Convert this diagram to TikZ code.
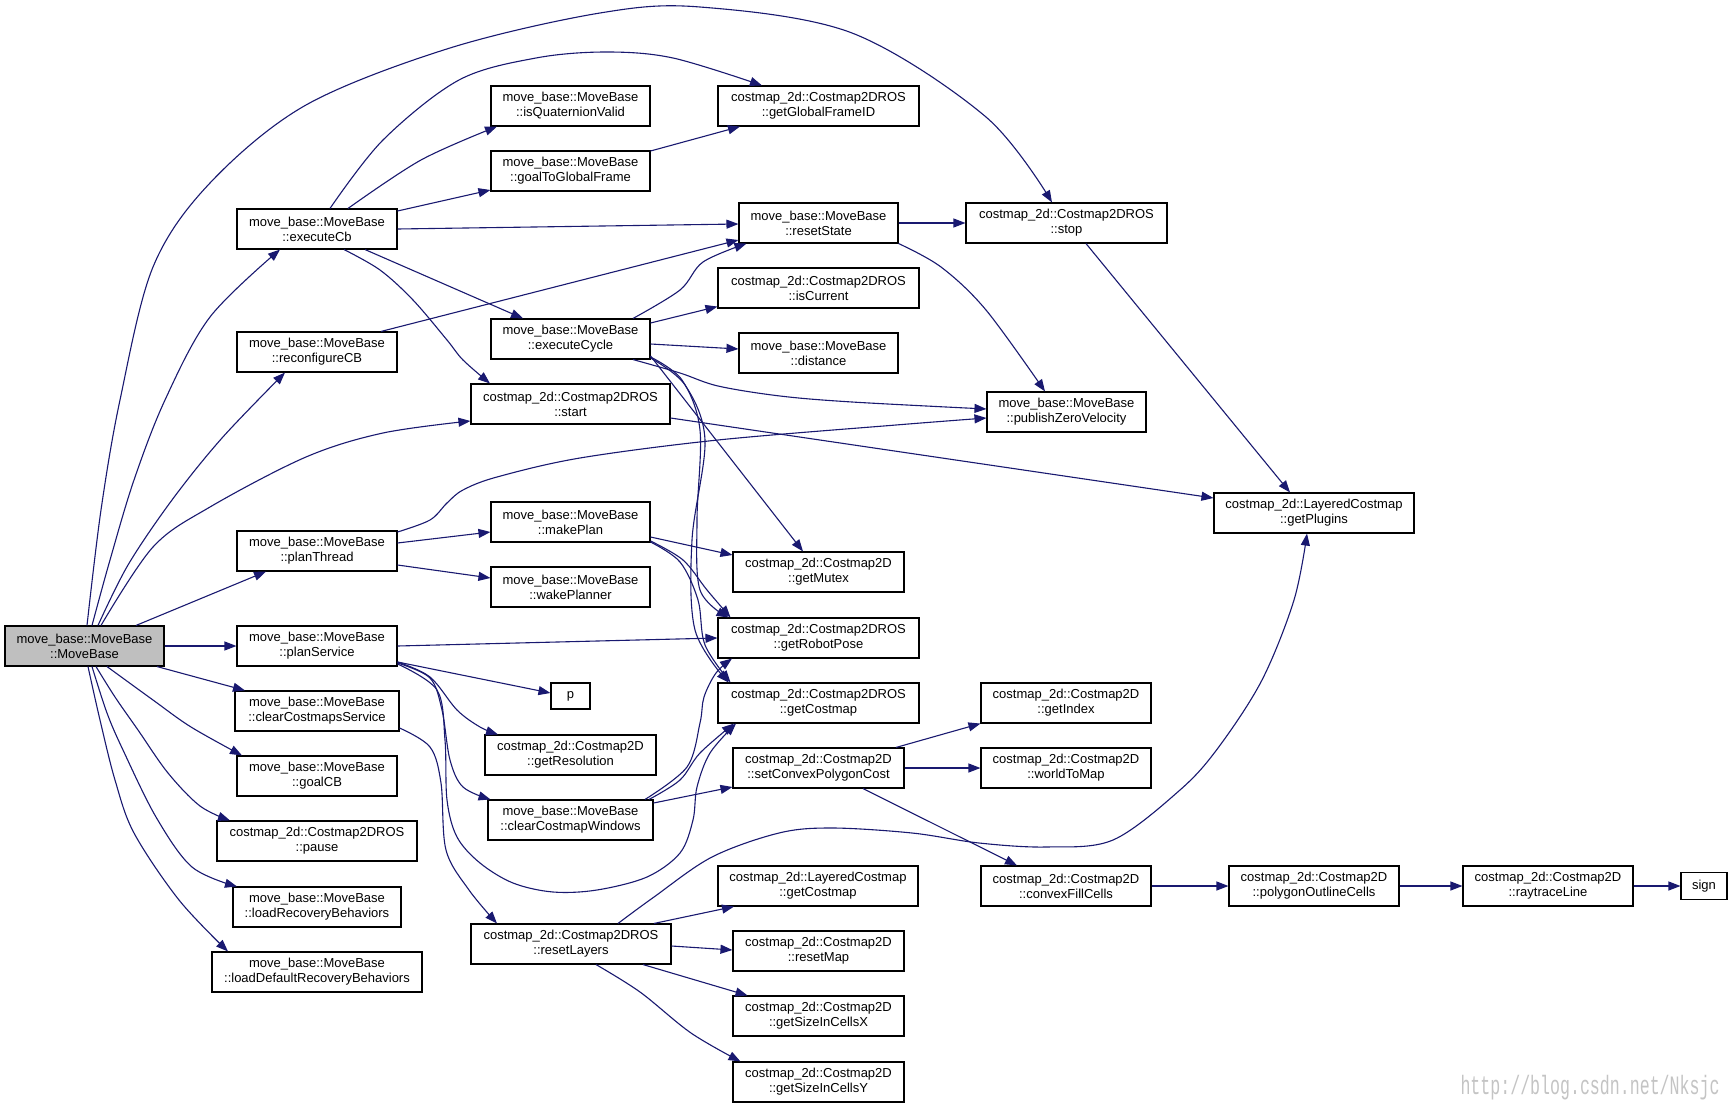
\documentclass[tikz,border=0pt]{standalone}
\usepackage{fontspec}
\setmainfont{Liberation Sans}
\newfontfamily\wmfont{Liberation Mono}
\usetikzlibrary{arrows.meta}
\definecolor{edgec}{HTML}{191970}
\definecolor{mainfill}{HTML}{BFBFBF}
\definecolor{wmgray}{HTML}{C4C4C4}
\begin{document}
\begin{tikzpicture}[x=1pt,y=-1pt,
  fn/.style={draw=black, line width=1.1pt, fill=white, inner sep=0pt, align=center,
    minimum height=40pt, font=\fontsize{13}{15}\selectfont},
  edge/.style={draw=edgec, line width=1.1pt, -{Triangle[length=12pt,width=9pt]}},
  sm/.style={smooth, tension=0.55}]
\fill[white] (0,0) rectangle (1733,1108);
\useasboundingbox (0,0) rectangle (1733,1108);
% ---------- nodes ----------
\node[fn, fill=mainfill, minimum width=159pt] (MB) at (84.5,646) {move\_base::MoveBase\\::MoveBase};
\node[fn, minimum width=160pt] (exCb) at (317,229) {move\_base::MoveBase\\::executeCb};
\node[fn, minimum width=160pt] (reconf) at (317,352) {move\_base::MoveBase\\::reconfigureCB};
\node[fn, minimum width=160pt] (planThread) at (317,551) {move\_base::MoveBase\\::planThread};
\node[fn, minimum width=160pt] (planService) at (317,646) {move\_base::MoveBase\\::planService};
\node[fn, minimum width=164pt] (clearCS) at (317,711) {move\_base::MoveBase\\::clearCostmapsService};
\node[fn, minimum width=160pt] (goalCB) at (317,776) {move\_base::MoveBase\\::goalCB};
\node[fn, minimum width=200pt] (pause) at (317,841) {costmap\_2d::Costmap2DROS\\::pause};
\node[fn, minimum width=168pt] (loadRB) at (317,907) {move\_base::MoveBase\\::loadRecoveryBehaviors};
\node[fn, minimum width=210pt] (loadDRB) at (317,972) {move\_base::MoveBase\\::loadDefaultRecoveryBehaviors};
\node[fn, minimum width=159pt] (isQV) at (570.5,106) {move\_base::MoveBase\\::isQuaternionValid};
\node[fn, minimum width=159pt] (goalTGF) at (570.5,171) {move\_base::MoveBase\\::goalToGlobalFrame};
\node[fn, minimum width=159pt] (exCycle) at (570.5,339) {move\_base::MoveBase\\::executeCycle};
\node[fn, minimum width=199pt] (start) at (570.5,404) {costmap\_2d::Costmap2DROS\\::start};
\node[fn, minimum width=159pt] (makePlan) at (570.5,522) {move\_base::MoveBase\\::makePlan};
\node[fn, minimum width=159pt] (wakePlanner) at (570.5,587) {move\_base::MoveBase\\::wakePlanner};
\node[fn, minimum width=39pt, minimum height=26pt] (p) at (570.5,696) {p};
\node[fn, minimum width=171pt] (getRes) at (570.5,755) {costmap\_2d::Costmap2D\\::getResolution};
\node[fn, minimum width=165pt] (clearCW) at (570.5,820) {move\_base::MoveBase\\::clearCostmapWindows};
\node[fn, minimum width=200pt] (resetLayers) at (571,944) {costmap\_2d::Costmap2DROS\\::resetLayers};
\node[fn, minimum width=201pt] (getGFID) at (818.5,106) {costmap\_2d::Costmap2DROS\\::getGlobalFrameID};
\node[fn, minimum width=159pt] (resetState) at (818.5,223) {move\_base::MoveBase\\::resetState};
\node[fn, minimum width=201pt] (isCurrent) at (818.5,288) {costmap\_2d::Costmap2DROS\\::isCurrent};
\node[fn, minimum width=159pt] (distance) at (818.5,353) {move\_base::MoveBase\\::distance};
\node[fn, minimum width=171pt] (getMutex) at (818.5,572) {costmap\_2d::Costmap2D\\::getMutex};
\node[fn, minimum width=201pt] (getRobotPose) at (818.5,638) {costmap\_2d::Costmap2DROS\\::getRobotPose};
\node[fn, minimum width=201pt] (getCostmapR) at (818.5,703) {costmap\_2d::Costmap2DROS\\::getCostmap};
\node[fn, minimum width=171pt] (setCPC) at (818.5,768) {costmap\_2d::Costmap2D\\::setConvexPolygonCost};
\node[fn, minimum width=200pt] (LCgetCostmap) at (818,886) {costmap\_2d::LayeredCostmap\\::getCostmap};
\node[fn, minimum width=171pt] (resetMap) at (818.5,951) {costmap\_2d::Costmap2D\\::resetMap};
\node[fn, minimum width=171pt] (gSX) at (818.5,1016) {costmap\_2d::Costmap2D\\::getSizeInCellsX};
\node[fn, minimum width=171pt] (gSY) at (818.5,1082) {costmap\_2d::Costmap2D\\::getSizeInCellsY};
\node[fn, minimum width=201pt] (stop) at (1066.5,223) {costmap\_2d::Costmap2DROS\\::stop};
\node[fn, minimum width=159pt] (pubZV) at (1066.5,412) {move\_base::MoveBase\\::publishZeroVelocity};
\node[fn, minimum width=170pt] (getIndex) at (1066,703) {costmap\_2d::Costmap2D\\::getIndex};
\node[fn, minimum width=170pt] (worldToMap) at (1066,768) {costmap\_2d::Costmap2D\\::worldToMap};
\node[fn, minimum width=170pt] (convexFill) at (1066,886) {costmap\_2d::Costmap2D\\::convexFillCells};
\node[fn, minimum width=200pt] (getPlugins) at (1314,513) {costmap\_2d::LayeredCostmap\\::getPlugins};
\node[fn, minimum width=170pt] (polyOutline) at (1314,886) {costmap\_2d::Costmap2D\\::polygonOutlineCells};
\node[fn, minimum width=170pt] (raytrace) at (1548,886) {costmap\_2d::Costmap2D\\::raytraceLine};
\node[fn, minimum width=46pt, minimum height=27pt] (sign) at (1704,886) {sign};
\node[text=wmgray, inner sep=0pt, font=\wmfont\fontsize{16.6}{17}\selectfont] (wm) at (1590,1088) {\scalebox{1}[1.6]{http://blog.csdn.net/Nksjc}};
% ---------- edges from MoveBase ----------
\draw[edge] plot[sm] coordinates {([xshift=2.5]MB.north) (101,510) (120,400) (153,267) (210,183) (306,105) (450,48) (600,13) (700,7) (852,33) (986,117) ([xshift=-14.5]stop.north)};
\draw[edge] plot[sm] coordinates {([xshift=7.5]MB.north) (110,560) (134,480) (165,400) (210,317) ([xshift=-37]exCb.south)};
\draw[edge] plot[sm] coordinates {([xshift=13.5]MB.north) (128,565) (172,500) (222,438) ([xshift=-32]reconf.south)};
\draw[edge] plot[sm] coordinates {([xshift=16.5]MB.north) (153,547) (210,507) (306,457) (383,433) ([yshift=-17]start.west)};
\draw[edge] ([xshift=51.5]MB.north) -- ([xshift=-51]planThread.south);
\draw[edge] (MB.east) -- (planService.west);
\draw[edge] ([xshift=72.5]MB.south) -- ([xshift=-72]clearCS.north);
\draw[edge] plot[sm] coordinates {([xshift=22.5]MB.south) (153,700) (191,727) ([xshift=-75]goalCB.north)};
\draw[edge] plot[sm] coordinates {([xshift=11.5]MB.south) (115,697) (138,730) (168,773) (200,806) ([xshift=-87]pause.north)};
\draw[edge] plot[sm] coordinates {([xshift=7.5]MB.south) (107,713) (123,750) (156,817) (192,867) ([xshift=-80]loadRB.north)};
\draw[edge] plot[sm] coordinates {([xshift=3.5]MB.south) (100,720) (115,780) (134,833) (179,900) ([xshift=-89]loadDRB.north)};
% ---------- executeCb ----------
\draw[edge] plot[sm] coordinates {([xshift=13]exCb.north) (383,140) (459,80) (536,58) (606,52) (673,58) ([xshift=-56.5]getGFID.north)};
\draw[edge] plot[sm] coordinates {([xshift=31]exCb.north) (421,160) ([xshift=-73.5]isQV.south)};
\draw[edge] ([yshift=18]exCb.east) -- ([yshift=-19]goalTGF.west);
\draw[edge] (exCb.east) -- ([yshift=-1]resetState.west);
\draw[edge] ([xshift=48]exCb.south) -- ([xshift=-47.5]exCycle.north);
\draw[edge] plot[sm] coordinates {([xshift=27]exCb.south) (380,270) (413,300) (447,340) (463,360) ([xshift=-80.5]start.north)};
% ---------- reconfigureCB ----------
\draw[edge] ([xshift=64]reconf.north) -- ([yshift=-17]resetState.west);
% ---------- goalToGlobalFrame ----------
\draw[edge] ([yshift=20]goalTGF.east) -- ([xshift=-78.5]getGFID.south);
% ---------- executeCycle ----------
\draw[edge] plot[sm] coordinates {([xshift=62.5]exCycle.north) (680,290) (703,262) ([xshift=-72]resetState.south)};
\draw[edge] ([yshift=16]exCycle.east) -- ([yshift=2]isCurrent.south west);
\draw[edge] ([yshift=-5]exCycle.east) -- ([yshift=4]distance.west);
\draw[edge] plot[sm] coordinates {([xshift=62.5]exCycle.south) (680,373) (718,386) (780,396) (852,402) ([yshift=3]pubZV.west)};
\draw[edge] ([yshift=-17]exCycle.east) -- ([xshift=-15.5]getMutex.north);
\draw[edge] plot[sm] coordinates {([yshift=-18]exCycle.east) (682,380) (700,430) (697,520) (700,590) ([xshift=-90]getRobotPose.north)};
\draw[edge] plot[sm] coordinates {([yshift=-19]exCycle.east) (685,385) (705,440) (692,540) (695,630) ([xshift=-90]getCostmapR.north)};
% ---------- start ----------
\draw[edge] ([yshift=-14]start.east) -- ([yshift=15]getPlugins.west);
% ---------- planThread ----------
\draw[edge] plot[sm] coordinates {([yshift=19]planThread.east) (430,520) (447,503) (463,490) (497,477) (580,458) (718,440) (896,425) ([yshift=-6]pubZV.west)};
\draw[edge] ([yshift=8]planThread.east) -- ([yshift=-10]makePlan.west);
\draw[edge] ([yshift=-14]planThread.east) -- ([yshift=9]wakePlanner.west);
% ---------- makePlan ----------
\draw[edge] ([yshift=-15]makePlan.east) -- ([yshift=17]getMutex.west);
\draw[edge] plot[sm] coordinates {([yshift=-19]makePlan.east) (683,560) (707,590) ([xshift=-88]getRobotPose.north)};
\draw[edge] plot[sm] coordinates {([yshift=-20]makePlan.east) (680,562) (698,600) (705,645) ([xshift=-88]getCostmapR.north)};
% ---------- planService ----------
\draw[edge] (planService.east) -- (getRobotPose.west);
\draw[edge] ([yshift=-16]planService.east) -- ([yshift=3]p.west);
\draw[edge] plot[sm] coordinates {([yshift=-16]planService.east) (430,677) (457,710) (480,727) ([xshift=-72.5]getRes.north)};
\draw[edge] plot[sm] coordinates {([yshift=-17]planService.east) (430,678) (442,710) (450,760) (463,787) ([xshift=-80]clearCW.north)};
\draw[edge] plot[sm] coordinates {([yshift=-18]planService.east) (437,690) (445,740) (447,800) (457,837) (480,863) (513,883) (553,892) (597,890) (647,877) (680,853) (693,820) (697,787) (710,753) ([xshift=-82.5]getCostmapR.south)};
% ---------- clearCostmapsService ----------
\draw[edge] plot[sm] coordinates {([yshift=-17]clearCS.east) (430,747) (441,783) (446,850) (469,890) ([xshift=-74]resetLayers.north)};
% ---------- clearCostmapWindows ----------
\draw[edge] plot[sm] coordinates {([xshift=74.5]clearCW.north) (687,767) (700,723) (704,697) (716,673) ([xshift=-86.5]getRobotPose.south)};
\draw[edge] plot[sm] coordinates {([xshift=78.5]clearCW.north) (680,780) (700,753) ([xshift=-84.5]getCostmapR.south)};
\draw[edge] ([yshift=17]clearCW.east) -- ([yshift=-19]setCPC.west);
% ---------- setConvexPolygonCost ----------
\draw[edge] ([xshift=77.5]setCPC.north) -- (getIndex.south west);
\draw[edge] (setCPC.east) -- (worldToMap.west);
\draw[edge] ([xshift=44.5]setCPC.south) -- ([xshift=-49]convexFill.north);
\draw[edge] (convexFill.east) -- (polyOutline.west);
\draw[edge] (polyOutline.east) -- (raytrace.west);
\draw[edge] (raytrace.east) -- (sign.west);
% ---------- resetLayers ----------
\draw[edge] plot[sm] coordinates {([xshift=47]resetLayers.north) (654,897) (712,857) (779,833) (832,828) (912,833) (979,843) (1046,847) (1113,840) (1180,790) (1218,748) (1262,680) (1294,600) ([xshift=-7]getPlugins.south)};
\draw[edge] ([xshift=83]resetLayers.north) -- ([xshift=-84]LCgetCostmap.south);
\draw[edge] ([yshift=-2]resetLayers.east) -- ([yshift=1]resetMap.west);
\draw[edge] ([xshift=72]resetLayers.south) -- ([xshift=-71]gSX.north);
\draw[edge] plot[sm] coordinates {([xshift=25]resetLayers.south) (640,992) (691,1033) ([xshift=-78]gSY.north)};
% ---------- resetState / stop ----------
\draw[edge] (resetState.east) -- (stop.west);
\draw[edge] plot[sm] coordinates {(resetState.south east) (941,267) (986,310) ([xshift=-21.5]pubZV.north)};
\draw[edge] ([xshift=19.5]stop.south) -- ([xshift=-24]getPlugins.north);
\end{tikzpicture}
\end{document}
